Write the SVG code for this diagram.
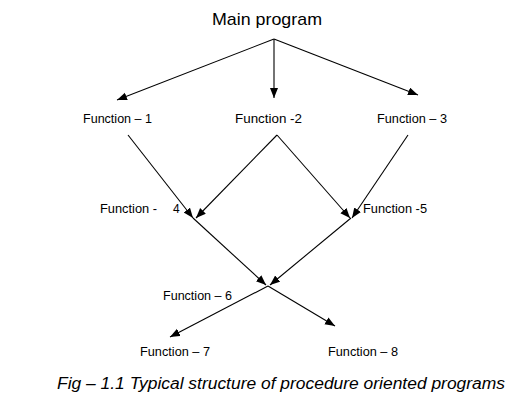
<svg xmlns="http://www.w3.org/2000/svg" width="530" height="414" viewBox="0 0 530 414">
<defs>
<marker id="ah" markerUnits="userSpaceOnUse" markerWidth="12" markerHeight="10" refX="10" refY="4" orient="auto">
<path d="M0,0 L10,4 L0,8 Z" fill="#000"/>
</marker>
<style>
.lbl{font-family:"Liberation Sans",Arial,sans-serif;font-size:12px;fill:#000}
.main{font-family:"Liberation Sans",Arial,sans-serif;font-size:17px;fill:#000}
.cap{font-family:"Liberation Sans",Arial,sans-serif;font-size:16px;font-style:italic;fill:#000}
.c line{stroke:#000;stroke-width:1.1}
.c line.a{marker-end:url(#ah)}
</style>
</defs>
<rect width="530" height="414" fill="#fff"/>
<g id="connectors" class="c">
<line class="a" x1="274" y1="39" x2="117" y2="100"/>
<line class="a" x1="274" y1="39" x2="274" y2="98"/>
<line class="a" x1="274" y1="39" x2="418" y2="95"/>
<line class="a" x1="128" y1="135" x2="193" y2="218"/>
<line class="a" x1="277" y1="135" x2="196" y2="218"/>
<line class="a" x1="277" y1="135" x2="350" y2="218"/>
<line class="a" x1="408" y1="135" x2="352" y2="218"/>
<line class="a" x1="193" y1="218" x2="266" y2="285"/>
<line class="a" x1="351" y1="218" x2="270" y2="285"/>
<line class="a" x1="268" y1="286" x2="170" y2="337"/>
<line class="a" x1="268" y1="286" x2="335" y2="326"/>
</g>
<g id="main"><text class="main" x="212" y="25" textLength="110" lengthAdjust="spacingAndGlyphs">Main program</text></g>
<g id="f1"><text class="lbl" x="83" y="123" textLength="69" lengthAdjust="spacingAndGlyphs">Function – 1</text></g>
<g id="f2"><text class="lbl" x="235" y="123" textLength="67" lengthAdjust="spacingAndGlyphs">Function -2</text></g>
<g id="f3"><text class="lbl" x="377" y="123" textLength="70" lengthAdjust="spacingAndGlyphs">Function – 3</text></g>
<g id="f4"><text class="lbl" x="100" y="213"><tspan textLength="57" lengthAdjust="spacingAndGlyphs">Function -</tspan><tspan x="173">4</tspan></text></g>
<g id="f5"><text class="lbl" x="363" y="213" textLength="64" lengthAdjust="spacingAndGlyphs">Function -5</text></g>
<g id="f6"><text class="lbl" x="163" y="300" textLength="69" lengthAdjust="spacingAndGlyphs">Function – 6</text></g>
<g id="f7"><text class="lbl" x="140" y="356" textLength="70" lengthAdjust="spacingAndGlyphs">Function – 7</text></g>
<g id="f8"><text class="lbl" x="328" y="356" textLength="70" lengthAdjust="spacingAndGlyphs">Function – 8</text></g>
<g id="caption"><text class="cap" x="57" y="389" textLength="448" lengthAdjust="spacingAndGlyphs">Fig – 1.1 Typical structure of procedure oriented programs</text></g>
</svg>
